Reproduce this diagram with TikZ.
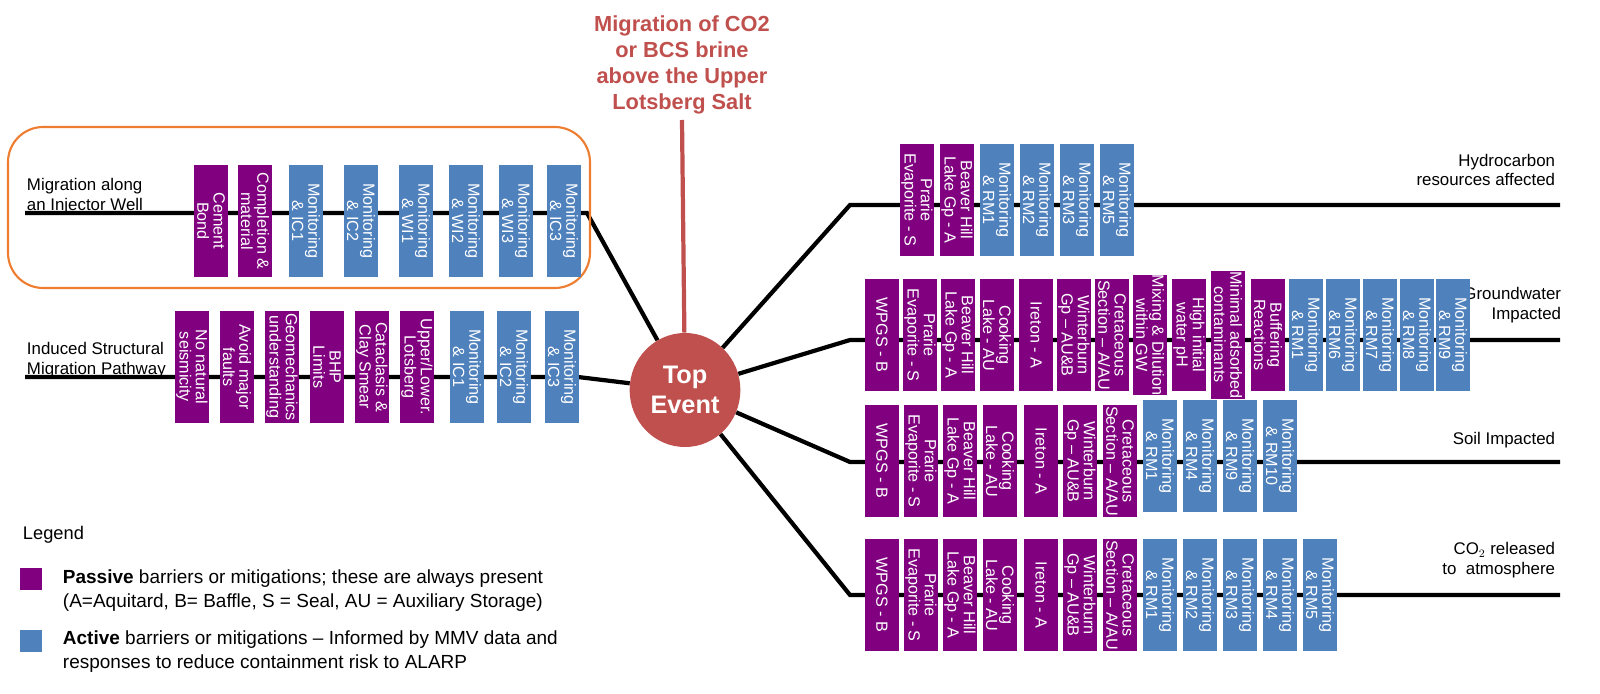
\documentclass[tikz,border=0pt]{standalone}
\usepackage{fontspec}
\setmainfont{Liberation Sans}
\usetikzlibrary{positioning,shapes.geometric}
\definecolor{passivecol}{HTML}{800080}
\definecolor{activecol}{HTML}{4F81BD}
\definecolor{eventcol}{HTML}{C0504D}
\definecolor{wellcol}{HTML}{ED7D31}
\begin{document}
\begin{tikzpicture}
		[
			x=0.025cm, y=-0.025cm,
			barrier/.style={rotate=-90, minimum width=2.8cm, minimum height=0.85cm,
				inner sep=0pt, align=center, text=white,
				font=\fontsize{11.5}{11.5}\selectfont},
			passive/.style={barrier, fill=passivecol},
			active/.style={barrier, fill=activecol},
			label/.style={draw=none, fill=none, font=\fontsize{12}{14}\selectfont},
			legtext/.style={label, anchor=west, align=left, font=\fontsize{13.5}{17}\selectfont},
			path/.style={line width=3pt}
		]
		\useasboundingbox (0,0) rectangle (1600,694);

		% top event and title
		\node[ellipse, fill=eventcol, minimum width=2.6cm, minimum height=2.85cm,
			text=white, align=center, font=\bfseries\fontsize{18}{21}\selectfont]
			(top) at (685,390) {Top\\Event};
		\node[label, text=eventcol, align=center, font=\bfseries\fontsize{15.5}{18.5}\selectfont]
			(title) at (682,65) {Migration of CO2\\or BCS brine\\above the Upper\\Lotsberg Salt};
		\coordinate (stem) at (682,120);
		\draw[eventcol, line width=3pt] (stem) -- (top);

		% threats and consequences
		\node[label, align=left, anchor=west] (T1) at (22,196) {Migration along\\an Injector Well};
		\node[label, align=left, anchor=west] (T2) at (22,360) {Induced Structural\\Migration Pathway};
		\node[label, align=right, anchor=east] (C1) at (1560,170) {Hydrocarbon\\resources affected};
		\node[label, align=right, anchor=east] (C2) at (1566,305) {Groundwater\\Impacted};
		\node[label, align=right, anchor=east] (C3) at (1560,440) {Soil Impacted};
		\node[label, align=right, anchor=east] (C4) at (1560,560) {CO$_2$ released\\to\ \ atmosphere};

		% path points
		\coordinate (a0) at (25,213);   \coordinate (a1) at (587,213);
		\coordinate (b0) at (25,377);   \coordinate (b1) at (578,377);
		\coordinate (c1) at (850,205);  \coordinate (c0) at (1560,205);
		\coordinate (d1) at (850,340);  \coordinate (d0) at (1560,340);
		\coordinate (e1) at (850,462);  \coordinate (e0) at (1560,462);
		\coordinate (f1) at (850,595);  \coordinate (f0) at (1560,595);

		\draw[path] (a0) -- (a1) -- (top);
		\draw[path] (b0) -- (b1) -- (top);
		\foreach \c in {c,d,e,f}
		\draw[path] (top) -- (\c1) -- (\c0);

		\draw[wellcol, line width=1.5pt, rounded corners=25] (8,127) rectangle (590,288);

		% injector well barriers
		\foreach \t/\x in {{Cement\\Bond}/211, {Completion \&\\material}/255}
		\node[passive] (iw\x) at (\x,221) {\t};
		\foreach \t/\x in {{Monitoring\\\& IC1}/306, {Monitoring\\\& IC2}/361, {Monitoring\\\& WI1}/416,
			{Monitoring\\\& WI2}/466, {Monitoring\\\& WI3}/516, {Monitoring\\\& IC3}/564}
		\node[active] (iw\x) at (\x,221) {\t};

		% induced pathway barriers
		\foreach \t/\x in {{No natural\\seismicity}/192, {Avoid major\\faults}/237,
			{Geomechanics\\understanding}/282, {BHP\\Limits}/327,
			{Cataclasis \&\\Clay Smear}/372, {Upper/Lower.\\Lotsberg}/417}
		\node[passive] (sp\x) at (\x,367) {\t};
		\foreach \t/\x in {{Monitoring\\\& IC1}/467, {Monitoring\\\& IC2}/514, {Monitoring\\\& IC3}/562}
		\node[active] (sp\x) at (\x,367) {\t};

		% hydrocarbon barriers
		\foreach \t/\x in {{Prarie\\Evaporite - S}/917, {Beaver Hill\\Lake Gp - A}/957}
		\node[passive] (hc\x) at (\x,200) {\t};
		\foreach \t/\x in {{Monitoring\\\& RM1}/997, {Monitoring\\\& RM2}/1037,
			{Monitoring\\\& RM3}/1077, {Monitoring\\\& RM5}/1117}
		\node[active] (hc\x) at (\x,200) {\t};

		% groundwater barriers
		\foreach \t/\x in {{WPGS - B}/882, {Prarie\\Evaporite - S}/920, {Beaver Hill\\Lake Gp - A}/958,
			{Cooking\\Lake - AU}/997, {Ireton - A}/1036, {Winterburn\\Gp -- AU\&B}/1074,
			{Cretaceous\\Section -- A/AU}/1112, {Mixing \& Dilution\\within GW}/1150,
			{High initial\\water pH}/1189, {Minimal adsorbed\\contaminants}/1228,
			{Buffering\\Reactions}/1268}
		\node[passive] (gw\x) at (\x,335) {\t};
		\foreach \t/\x in {{Monitoring\\\& RM1}/1306, {Monitoring\\\& RM6}/1343,
			{Monitoring\\\& RM7}/1380, {Monitoring\\\& RM8}/1417, {Monitoring\\\& RM9}/1453}
		\node[active] (gw\x) at (\x,335) {\t};

		% soil barriers
		\foreach \t/\x in {{WPGS - B}/882, {Prarie\\Evaporite - S}/921, {Beaver Hill\\Lake Gp - A}/960,
			{Cooking\\Lake - AU}/1000, {Ireton - A}/1041, {Winterburn\\Gp -- AU\&B}/1080,
			{Cretaceous\\Section -- A/AU}/1120}
		\node[passive] (so\x) at (\x,461) {\t};
		\foreach \t/\x in {{Monitoring\\\& RM1}/1160, {Monitoring\\\& RM4}/1200,
			{Monitoring\\\& RM9}/1240, {Monitoring\\\& RM10}/1280}
		\node[active] (so\x) at (\x,456) {\t};

		% atmosphere barriers
		\foreach \t/\x in {{WPGS - B}/882, {Prarie\\Evaporite - S}/921, {Beaver Hill\\Lake Gp - A}/960,
			{Cooking\\Lake - AU}/1000, {Ireton - A}/1041, {Winterburn\\Gp -- AU\&B}/1080,
			{Cretaceous\\Section -- A/AU}/1120}
		\node[passive] (at\x) at (\x,595) {\t};
		\foreach \t/\x in {{Monitoring\\\& RM1}/1160, {Monitoring\\\& RM2}/1200,
			{Monitoring\\\& RM3}/1240, {Monitoring\\\& RM4}/1280, {Monitoring\\\& RM5}/1320}
		\node[active] (at\x) at (\x,595) {\t};

		% legend
		\node[label, anchor=west, font=\fontsize{13}{15}\selectfont] (leg) at (18,535) {Legend};
		\node[fill=passivecol, minimum size=0.55cm, inner sep=0pt] (legp) at (31,579) {};
		\node[fill=activecol, minimum size=0.55cm, inner sep=0pt] (lega) at (31,641) {};
		\node[legtext] (legpt) at (58,591)
			{\textbf{Passive} barriers or mitigations; these are always present\\(A=Aquitard, B= Baffle, S = Seal, AU = Auxiliary Storage)};
		\node[legtext] (legat) at (58,652)
			{\textbf{Active} barriers or mitigations -- Informed by MMV data and\\responses to reduce containment risk to ALARP};

	\end{tikzpicture}
\end{document}
